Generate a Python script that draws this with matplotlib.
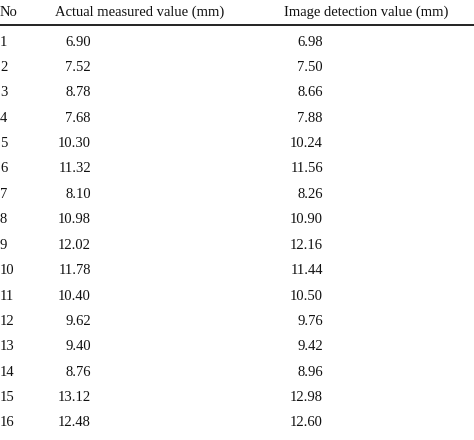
import matplotlib
matplotlib.use("Agg")
import matplotlib.pyplot as plt

headers = ["No", "Actual measured value (mm)", "Image detection value (mm)"]
nos = [str(i) for i in range(1, 17)]
actual = ["6.90","7.52","8.78","7.68","10.30","11.32","8.10","10.98","12.02","11.78","10.40","9.62","9.40","8.76","13.12","12.48"]
detected = ["6.98","7.50","8.66","7.88","10.24","11.56","8.26","10.90","12.16","11.44","10.50","9.76","9.42","8.96","12.98","12.60"]

W, H = 474, 440
fig = plt.figure(figsize=(W/100, H/100), dpi=100)
ax = fig.add_axes([0, 0, 1, 1])
ax.set_xlim(0, W); ax.set_ylim(H, 0); ax.axis("off")
fs = 10.5
kw = dict(family="Liberation Serif", fontsize=fs, color="#111111", va="center")
ax.text(0, 12, headers[0], ha="left", **kw)
ax.text(55, 12, headers[1], ha="left", **kw)
ax.text(284, 12, headers[2], ha="left", **kw)
ax.plot([0, W], [25.5, 25.5], color="#111111", lw=1.3)
for i in range(16):
    y = 42 + i * 25.4
    ax.text(0, y, nos[i], ha="left", **kw)
    ax.text(91, y, actual[i], ha="right", **kw)
    ax.text(323, y, detected[i], ha="right", **kw)
fig.savefig("out.png", dpi=100)
